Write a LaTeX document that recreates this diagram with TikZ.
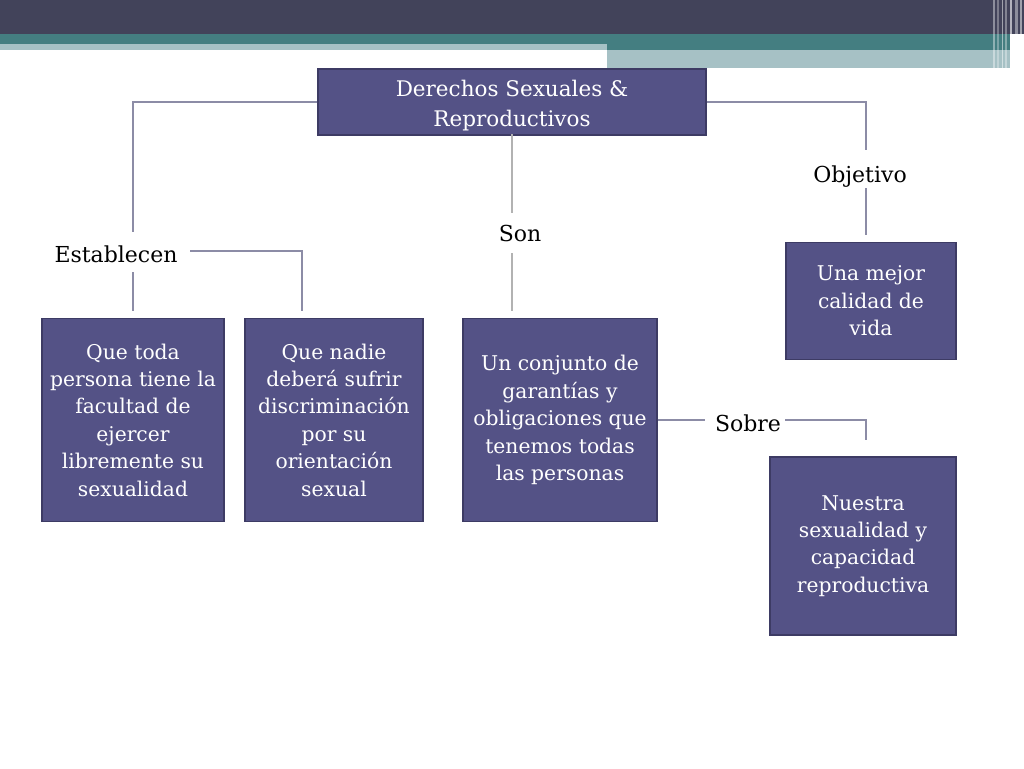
\documentclass[tikz,border=0pt]{standalone}
\usepackage{fontspec}
\setmainfont{DejaVu Serif}
\usetikzlibrary{positioning}
\definecolor{bandDark}{HTML}{42435A}
\definecolor{bandTeal}{HTML}{447E81}
\definecolor{bandLight}{HTML}{A6C1C5}
\definecolor{boxFill}{HTML}{545286}
\definecolor{boxEdge}{HTML}{3D3B64}
\definecolor{linkGray}{HTML}{8C8CA6}

\tikzset{
  topic/.style={draw=boxEdge,line width=1.2pt,fill=boxFill,text=white,align=center,
    inner sep=0pt,font=\fontsize{20.3}{27.4}\selectfont},
  cue/.style={font=\fontsize{22}{24}\selectfont,inner sep=0pt},
  link/.style={draw=linkGray,line width=1.3pt}
}

\begin{document}
\begin{tikzpicture}[x=1pt,y=-1pt]
  \useasboundingbox (0,0) rectangle (1024,768);
  % header bands
  \fill[bandDark] (0,0) rectangle (1024,34);
  \fill[bandTeal] (0,34) rectangle (1010,44);
  \fill[bandTeal] (607,44) rectangle (1010,50);
  \fill[bandLight] (0,44) rectangle (607,50);
  \fill[bandLight] (607,50) rectangle (1010,68);
  \foreach \xx/\ww/\op in {994/1.5/0.4,998/2/0.3,1002/1/0.5,1006/2.5/0.35,1011/1.5/0.6,1016/3/0.4,1021/1.5/0.5}
    \draw[white,opacity=\op,line width=\ww pt] (\xx,0) -- (\xx,68);

  % boxes
  \node[topic,minimum width=388pt,minimum height=66pt,font=\fontsize{21.5}{30}\selectfont]
    (root) at (512,102) {\rule{0pt}{24pt}Derechos Sexuales \&\\Reproductivos};
  \node[topic,minimum width=182pt,minimum height=203pt] (whole) at (133,420)
    {Que toda\\persona tiene la\\facultad de\\ejercer\\libremente su\\sexualidad};
  \node[topic,minimum width=178pt,minimum height=203pt] (nobody) at (334,420)
    {Que nadie\\deberá sufrir\\discriminación\\por su\\orientación\\sexual};
  \node[topic,minimum width=194pt,minimum height=203pt] (set) at (560,420)
    {Un conjunto de\\garantías y\\obligaciones que\\tenemos todas\\las personas};
  \node[topic,minimum width=170pt,minimum height=117pt] (life) at (871,301)
    {Una mejor\\calidad de\\vida};
  \node[topic,minimum width=186pt,minimum height=178pt] (ours) at (863,546)
    {Nuestra\\sexualidad y\\capacidad\\reproductiva};

  % cue words
  \node[cue] (estab) at (116,254) {Establecen};
  \node[cue] (son) at (520,233) {Son};
  \node[cue] (goal) at (860,177) {Objetivo};
  \node[cue] (about) at (748,423) {Sobre};

  % connectors
  \coordinate (c1) at (133,232);
  \coordinate (c2) at (190,251);
  \coordinate (c2e) at (302,311);
  \coordinate (c3) at (133,272);
  \coordinate (c3e) at (133,311);
  \coordinate (c4s) at (512,134);
  \coordinate (c4) at (512,213);
  \coordinate (c5) at (512,253);
  \coordinate (c5e) at (512,311);
  \coordinate (c6) at (866,150);
  \coordinate (c7) at (866,188);
  \coordinate (c7e) at (866,235);
  \coordinate (c8) at (705,420);
  \coordinate (c9) at (785,420);
  \coordinate (c9e) at (866,440);
  \draw[link] (root.west) -| (c1);
  \draw[link] (c2) -| (c2e);
  \draw[link] (c3) -- (c3e);
  \draw[link,draw=gray!60,line width=1.8pt] (c4s) -- (c4);
  \draw[link,draw=gray!60,line width=1.8pt] (c5) -- (c5e);
  \draw[link] (root.east) -| (c6);
  \draw[link] (c7) -- (c7e);
  \draw[link] (set.east |- c8) -- (c8);
  \draw[link] (c9) -| (c9e);
\end{tikzpicture}
\end{document}
